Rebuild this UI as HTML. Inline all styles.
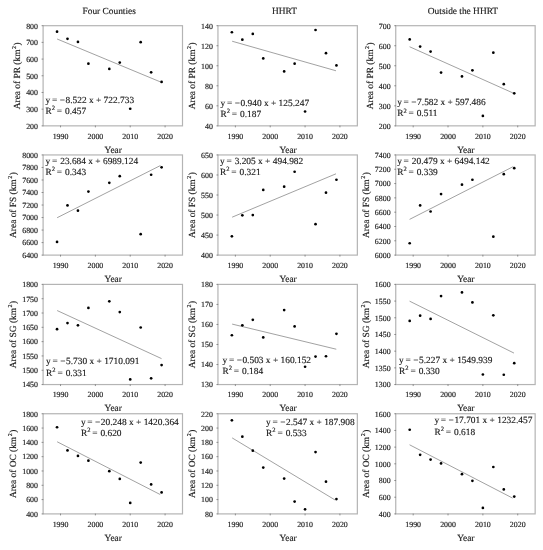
<!DOCTYPE html>
<html><head><meta charset="utf-8"><title>Figure</title>
<style>html,body{margin:0;padding:0;background:#fff}svg{display:block}text{stroke:#1a1a1a;stroke-width:.15px}.op{stroke-width:.05px}</style></head>
<body>
<svg width="543" height="550" viewBox="0 0 543 550" font-family="Liberation Serif, Times New Roman, serif" text-rendering="geometricPrecision" fill="#1a1a1a">
<rect width="543" height="550" fill="#fff"/>
<text x="109.20" y="14.3" font-size="9.40" text-anchor="middle">Four Counties</text>
<text x="284.55" y="14.3" font-size="9.40" text-anchor="middle">HHRT</text>
<text x="462.95" y="14.3" font-size="9.40" text-anchor="middle">Outside the HHRT</text>
<g>
<rect x="43.10" y="25.70" width="139.40" height="100.15" fill="none" stroke="#b4b4b4" stroke-width="1.2"/>
<line x1="60.53" y1="125.55" x2="60.53" y2="127.35" stroke="#777" stroke-width="0.8"/>
<text x="60.53" y="138.65" font-size="7.90" text-anchor="middle">1990</text>
<line x1="95.38" y1="125.55" x2="95.38" y2="127.35" stroke="#777" stroke-width="0.8"/>
<text x="95.38" y="138.65" font-size="7.90" text-anchor="middle">2000</text>
<line x1="130.22" y1="125.55" x2="130.22" y2="127.35" stroke="#777" stroke-width="0.8"/>
<text x="130.22" y="138.65" font-size="7.90" text-anchor="middle">2010</text>
<line x1="165.08" y1="125.55" x2="165.08" y2="127.35" stroke="#777" stroke-width="0.8"/>
<text x="165.08" y="138.65" font-size="7.90" text-anchor="middle">2020</text>
<line x1="41.60" y1="125.85" x2="43.40" y2="125.85" stroke="#777" stroke-width="0.8"/>
<text x="38.00" y="128.65" font-size="7.90" text-anchor="end">200</text>
<line x1="41.60" y1="109.16" x2="43.40" y2="109.16" stroke="#777" stroke-width="0.8"/>
<text x="38.00" y="111.96" font-size="7.90" text-anchor="end">300</text>
<line x1="41.60" y1="92.47" x2="43.40" y2="92.47" stroke="#777" stroke-width="0.8"/>
<text x="38.00" y="95.27" font-size="7.90" text-anchor="end">400</text>
<line x1="41.60" y1="75.78" x2="43.40" y2="75.78" stroke="#777" stroke-width="0.8"/>
<text x="38.00" y="78.58" font-size="7.90" text-anchor="end">500</text>
<line x1="41.60" y1="59.08" x2="43.40" y2="59.08" stroke="#777" stroke-width="0.8"/>
<text x="38.00" y="61.88" font-size="7.90" text-anchor="end">600</text>
<line x1="41.60" y1="42.39" x2="43.40" y2="42.39" stroke="#777" stroke-width="0.8"/>
<text x="38.00" y="45.19" font-size="7.90" text-anchor="end">700</text>
<line x1="41.60" y1="25.70" x2="43.40" y2="25.70" stroke="#777" stroke-width="0.8"/>
<text x="38.00" y="28.50" font-size="7.90" text-anchor="end">800</text>
<text transform="translate(20.35,75.78) rotate(-90)" font-size="9.40" text-anchor="middle">Area of PR (km<tspan font-size="6.02" dy="-4.2" dx="0.5">2</tspan><tspan dy="4.2" dx="0.6">)</tspan></text>
<text x="113.20" y="152.65" font-size="9.40" text-anchor="middle">Year</text>
<line x1="57.13" y1="39.01" x2="161.55" y2="82.38" stroke="#8a8a8a" stroke-width="0.8"/>
<circle cx="57.04" cy="31.68" r="1.35" fill="#000"/>
<circle cx="67.50" cy="38.86" r="1.35" fill="#000"/>
<circle cx="77.95" cy="41.90" r="1.35" fill="#000"/>
<circle cx="88.41" cy="63.72" r="1.35" fill="#000"/>
<circle cx="109.31" cy="68.97" r="1.35" fill="#000"/>
<circle cx="119.77" cy="62.62" r="1.35" fill="#000"/>
<circle cx="130.22" cy="108.75" r="1.35" fill="#000"/>
<circle cx="140.68" cy="42.17" r="1.35" fill="#000"/>
<circle cx="151.14" cy="72.28" r="1.35" fill="#000"/>
<circle cx="161.59" cy="81.95" r="1.35" fill="#000"/>
<text x="45.52" y="103.17" font-size="9.40">y <tspan class="op" dx="-0.6">=</tspan><tspan dx="0.6"> </tspan><tspan class="op" dx="-0.5">−</tspan><tspan dx="0.5">8</tspan>.522 x <tspan class="op">+</tspan> 722.733</text>
<text x="45.52" y="114.27" font-size="9.40">R<tspan font-size="6.58" dy="-3.9">2</tspan><tspan dy="3.9"> </tspan><tspan class="op" dx="-0.6">=</tspan><tspan dx="0.6"> 0.457</tspan></text>
</g>
<g>
<rect x="217.95" y="25.70" width="139.40" height="100.15" fill="none" stroke="#b4b4b4" stroke-width="1.2"/>
<line x1="235.38" y1="125.55" x2="235.38" y2="127.35" stroke="#777" stroke-width="0.8"/>
<text x="235.38" y="138.65" font-size="7.90" text-anchor="middle">1990</text>
<line x1="270.23" y1="125.55" x2="270.23" y2="127.35" stroke="#777" stroke-width="0.8"/>
<text x="270.23" y="138.65" font-size="7.90" text-anchor="middle">2000</text>
<line x1="305.07" y1="125.55" x2="305.07" y2="127.35" stroke="#777" stroke-width="0.8"/>
<text x="305.07" y="138.65" font-size="7.90" text-anchor="middle">2010</text>
<line x1="339.93" y1="125.55" x2="339.93" y2="127.35" stroke="#777" stroke-width="0.8"/>
<text x="339.93" y="138.65" font-size="7.90" text-anchor="middle">2020</text>
<line x1="216.45" y1="125.85" x2="218.25" y2="125.85" stroke="#777" stroke-width="0.8"/>
<text x="212.85" y="128.65" font-size="7.90" text-anchor="end">40</text>
<line x1="216.45" y1="105.82" x2="218.25" y2="105.82" stroke="#777" stroke-width="0.8"/>
<text x="212.85" y="108.62" font-size="7.90" text-anchor="end">60</text>
<line x1="216.45" y1="85.79" x2="218.25" y2="85.79" stroke="#777" stroke-width="0.8"/>
<text x="212.85" y="88.59" font-size="7.90" text-anchor="end">80</text>
<line x1="216.45" y1="65.76" x2="218.25" y2="65.76" stroke="#777" stroke-width="0.8"/>
<text x="212.85" y="68.56" font-size="7.90" text-anchor="end">100</text>
<line x1="216.45" y1="45.73" x2="218.25" y2="45.73" stroke="#777" stroke-width="0.8"/>
<text x="212.85" y="48.53" font-size="7.90" text-anchor="end">120</text>
<line x1="216.45" y1="25.70" x2="218.25" y2="25.70" stroke="#777" stroke-width="0.8"/>
<text x="212.85" y="28.50" font-size="7.90" text-anchor="end">140</text>
<text transform="translate(195.20,75.78) rotate(-90)" font-size="9.40" text-anchor="middle">Area of PR (km<tspan font-size="6.02" dy="-4.2" dx="0.5">2</tspan><tspan dy="4.2" dx="0.6">)</tspan></text>
<text x="288.05" y="152.65" font-size="9.40" text-anchor="middle">Year</text>
<line x1="232.13" y1="41.22" x2="335.99" y2="70.78" stroke="#8a8a8a" stroke-width="0.8"/>
<circle cx="231.89" cy="32.23" r="1.35" fill="#000"/>
<circle cx="242.34" cy="39.69" r="1.35" fill="#000"/>
<circle cx="252.80" cy="33.89" r="1.35" fill="#000"/>
<circle cx="263.25" cy="58.47" r="1.35" fill="#000"/>
<circle cx="284.16" cy="71.45" r="1.35" fill="#000"/>
<circle cx="294.62" cy="63.72" r="1.35" fill="#000"/>
<circle cx="305.07" cy="111.51" r="1.35" fill="#000"/>
<circle cx="315.53" cy="30.02" r="1.35" fill="#000"/>
<circle cx="325.99" cy="53.22" r="1.35" fill="#000"/>
<circle cx="336.44" cy="65.38" r="1.35" fill="#000"/>
<text x="220.52" y="105.93" font-size="9.40">y <tspan class="op" dx="-0.6">=</tspan><tspan dx="0.6"> </tspan><tspan class="op" dx="-0.5">−</tspan><tspan dx="0.5">0</tspan>.940 x <tspan class="op">+</tspan> 125.247</text>
<text x="220.52" y="117.03" font-size="9.40">R<tspan font-size="6.58" dy="-3.9">2</tspan><tspan dy="3.9"> </tspan><tspan class="op" dx="-0.6">=</tspan><tspan dx="0.6"> 0.187</tspan></text>
</g>
<g>
<rect x="395.75" y="25.70" width="139.40" height="100.15" fill="none" stroke="#b4b4b4" stroke-width="1.2"/>
<line x1="413.18" y1="125.55" x2="413.18" y2="127.35" stroke="#777" stroke-width="0.8"/>
<text x="413.18" y="138.65" font-size="7.90" text-anchor="middle">1990</text>
<line x1="448.02" y1="125.55" x2="448.02" y2="127.35" stroke="#777" stroke-width="0.8"/>
<text x="448.02" y="138.65" font-size="7.90" text-anchor="middle">2000</text>
<line x1="482.88" y1="125.55" x2="482.88" y2="127.35" stroke="#777" stroke-width="0.8"/>
<text x="482.88" y="138.65" font-size="7.90" text-anchor="middle">2010</text>
<line x1="517.73" y1="125.55" x2="517.73" y2="127.35" stroke="#777" stroke-width="0.8"/>
<text x="517.73" y="138.65" font-size="7.90" text-anchor="middle">2020</text>
<line x1="394.25" y1="125.85" x2="396.05" y2="125.85" stroke="#777" stroke-width="0.8"/>
<text x="390.65" y="128.65" font-size="7.90" text-anchor="end">200</text>
<line x1="394.25" y1="105.82" x2="396.05" y2="105.82" stroke="#777" stroke-width="0.8"/>
<text x="390.65" y="108.62" font-size="7.90" text-anchor="end">300</text>
<line x1="394.25" y1="85.79" x2="396.05" y2="85.79" stroke="#777" stroke-width="0.8"/>
<text x="390.65" y="88.59" font-size="7.90" text-anchor="end">400</text>
<line x1="394.25" y1="65.76" x2="396.05" y2="65.76" stroke="#777" stroke-width="0.8"/>
<text x="390.65" y="68.56" font-size="7.90" text-anchor="end">500</text>
<line x1="394.25" y1="45.73" x2="396.05" y2="45.73" stroke="#777" stroke-width="0.8"/>
<text x="390.65" y="48.53" font-size="7.90" text-anchor="end">600</text>
<line x1="394.25" y1="25.70" x2="396.05" y2="25.70" stroke="#777" stroke-width="0.8"/>
<text x="390.65" y="28.50" font-size="7.90" text-anchor="end">700</text>
<text transform="translate(373.00,75.78) rotate(-90)" font-size="9.40" text-anchor="middle">Area of PR (km<tspan font-size="6.02" dy="-4.2" dx="0.5">2</tspan><tspan dy="4.2" dx="0.6">)</tspan></text>
<text x="465.85" y="152.65" font-size="9.40" text-anchor="middle">Year</text>
<line x1="409.57" y1="46.74" x2="513.99" y2="93.43" stroke="#8a8a8a" stroke-width="0.8"/>
<circle cx="409.69" cy="39.41" r="1.35" fill="#000"/>
<circle cx="420.14" cy="46.59" r="1.35" fill="#000"/>
<circle cx="430.60" cy="51.57" r="1.35" fill="#000"/>
<circle cx="441.06" cy="72.56" r="1.35" fill="#000"/>
<circle cx="461.97" cy="76.43" r="1.35" fill="#000"/>
<circle cx="472.42" cy="70.35" r="1.35" fill="#000"/>
<circle cx="482.88" cy="115.93" r="1.35" fill="#000"/>
<circle cx="493.33" cy="52.67" r="1.35" fill="#000"/>
<circle cx="503.79" cy="84.16" r="1.35" fill="#000"/>
<circle cx="514.24" cy="93.28" r="1.35" fill="#000"/>
<text x="397.14" y="105.38" font-size="9.40">y <tspan class="op" dx="-0.6">=</tspan><tspan dx="0.6"> </tspan><tspan class="op" dx="-0.5">−</tspan><tspan dx="0.5">7</tspan>.582 x <tspan class="op">+</tspan> 597.486</text>
<text x="397.14" y="116.48" font-size="9.40">R<tspan font-size="6.58" dy="-3.9">2</tspan><tspan dy="3.9"> </tspan><tspan class="op" dx="-0.6">=</tspan><tspan dx="0.6"> 0.511</tspan></text>
</g>
<g>
<rect x="43.10" y="154.95" width="139.40" height="100.15" fill="none" stroke="#b4b4b4" stroke-width="1.2"/>
<line x1="60.53" y1="254.80" x2="60.53" y2="256.60" stroke="#777" stroke-width="0.8"/>
<text x="60.53" y="267.90" font-size="7.90" text-anchor="middle">1990</text>
<line x1="95.38" y1="254.80" x2="95.38" y2="256.60" stroke="#777" stroke-width="0.8"/>
<text x="95.38" y="267.90" font-size="7.90" text-anchor="middle">2000</text>
<line x1="130.22" y1="254.80" x2="130.22" y2="256.60" stroke="#777" stroke-width="0.8"/>
<text x="130.22" y="267.90" font-size="7.90" text-anchor="middle">2010</text>
<line x1="165.08" y1="254.80" x2="165.08" y2="256.60" stroke="#777" stroke-width="0.8"/>
<text x="165.08" y="267.90" font-size="7.90" text-anchor="middle">2020</text>
<line x1="41.60" y1="255.10" x2="43.40" y2="255.10" stroke="#777" stroke-width="0.8"/>
<text x="38.00" y="257.90" font-size="7.90" text-anchor="end">6400</text>
<line x1="41.60" y1="242.58" x2="43.40" y2="242.58" stroke="#777" stroke-width="0.8"/>
<text x="38.00" y="245.38" font-size="7.90" text-anchor="end">6600</text>
<line x1="41.60" y1="230.06" x2="43.40" y2="230.06" stroke="#777" stroke-width="0.8"/>
<text x="38.00" y="232.86" font-size="7.90" text-anchor="end">6800</text>
<line x1="41.60" y1="217.54" x2="43.40" y2="217.54" stroke="#777" stroke-width="0.8"/>
<text x="38.00" y="220.34" font-size="7.90" text-anchor="end">7000</text>
<line x1="41.60" y1="205.02" x2="43.40" y2="205.02" stroke="#777" stroke-width="0.8"/>
<text x="38.00" y="207.82" font-size="7.90" text-anchor="end">7200</text>
<line x1="41.60" y1="192.51" x2="43.40" y2="192.51" stroke="#777" stroke-width="0.8"/>
<text x="38.00" y="195.31" font-size="7.90" text-anchor="end">7400</text>
<line x1="41.60" y1="179.99" x2="43.40" y2="179.99" stroke="#777" stroke-width="0.8"/>
<text x="38.00" y="182.79" font-size="7.90" text-anchor="end">7600</text>
<line x1="41.60" y1="167.47" x2="43.40" y2="167.47" stroke="#777" stroke-width="0.8"/>
<text x="38.00" y="170.27" font-size="7.90" text-anchor="end">7800</text>
<line x1="41.60" y1="154.95" x2="43.40" y2="154.95" stroke="#777" stroke-width="0.8"/>
<text x="38.00" y="157.75" font-size="7.90" text-anchor="end">8000</text>
<text transform="translate(16.40,205.02) rotate(-90)" font-size="9.40" text-anchor="middle">Area of FS (km<tspan font-size="6.02" dy="-4.2" dx="0.5">2</tspan><tspan dy="4.2" dx="0.6">)</tspan></text>
<text x="113.20" y="281.90" font-size="9.40" text-anchor="middle">Year</text>
<line x1="57.13" y1="217.73" x2="160.44" y2="165.52" stroke="#8a8a8a" stroke-width="0.8"/>
<circle cx="57.04" cy="241.89" r="1.35" fill="#000"/>
<circle cx="67.50" cy="205.43" r="1.35" fill="#000"/>
<circle cx="77.95" cy="210.68" r="1.35" fill="#000"/>
<circle cx="88.41" cy="191.62" r="1.35" fill="#000"/>
<circle cx="109.31" cy="182.78" r="1.35" fill="#000"/>
<circle cx="119.77" cy="176.15" r="1.35" fill="#000"/>
<circle cx="140.68" cy="234.16" r="1.35" fill="#000"/>
<circle cx="151.14" cy="174.76" r="1.35" fill="#000"/>
<circle cx="161.59" cy="167.31" r="1.35" fill="#000"/>
<text x="45.52" y="164.21" font-size="9.40">y <tspan class="op" dx="-0.6">=</tspan><tspan dx="0.6"> </tspan>23.684 x <tspan class="op">+</tspan> 6989.124</text>
<text x="45.52" y="175.31" font-size="9.40">R<tspan font-size="6.58" dy="-3.9">2</tspan><tspan dy="3.9"> </tspan><tspan class="op" dx="-0.6">=</tspan><tspan dx="0.6"> 0.343</tspan></text>
</g>
<g>
<rect x="217.95" y="154.95" width="139.40" height="100.15" fill="none" stroke="#b4b4b4" stroke-width="1.2"/>
<line x1="235.38" y1="254.80" x2="235.38" y2="256.60" stroke="#777" stroke-width="0.8"/>
<text x="235.38" y="267.90" font-size="7.90" text-anchor="middle">1990</text>
<line x1="270.23" y1="254.80" x2="270.23" y2="256.60" stroke="#777" stroke-width="0.8"/>
<text x="270.23" y="267.90" font-size="7.90" text-anchor="middle">2000</text>
<line x1="305.07" y1="254.80" x2="305.07" y2="256.60" stroke="#777" stroke-width="0.8"/>
<text x="305.07" y="267.90" font-size="7.90" text-anchor="middle">2010</text>
<line x1="339.93" y1="254.80" x2="339.93" y2="256.60" stroke="#777" stroke-width="0.8"/>
<text x="339.93" y="267.90" font-size="7.90" text-anchor="middle">2020</text>
<line x1="216.45" y1="255.10" x2="218.25" y2="255.10" stroke="#777" stroke-width="0.8"/>
<text x="212.85" y="257.90" font-size="7.90" text-anchor="end">400</text>
<line x1="216.45" y1="235.07" x2="218.25" y2="235.07" stroke="#777" stroke-width="0.8"/>
<text x="212.85" y="237.87" font-size="7.90" text-anchor="end">450</text>
<line x1="216.45" y1="215.04" x2="218.25" y2="215.04" stroke="#777" stroke-width="0.8"/>
<text x="212.85" y="217.84" font-size="7.90" text-anchor="end">500</text>
<line x1="216.45" y1="195.01" x2="218.25" y2="195.01" stroke="#777" stroke-width="0.8"/>
<text x="212.85" y="197.81" font-size="7.90" text-anchor="end">550</text>
<line x1="216.45" y1="174.98" x2="218.25" y2="174.98" stroke="#777" stroke-width="0.8"/>
<text x="212.85" y="177.78" font-size="7.90" text-anchor="end">600</text>
<line x1="216.45" y1="154.95" x2="218.25" y2="154.95" stroke="#777" stroke-width="0.8"/>
<text x="212.85" y="157.75" font-size="7.90" text-anchor="end">650</text>
<text transform="translate(195.20,205.02) rotate(-90)" font-size="9.40" text-anchor="middle">Area of FS (km<tspan font-size="6.02" dy="-4.2" dx="0.5">2</tspan><tspan dy="4.2" dx="0.6">)</tspan></text>
<text x="288.05" y="281.90" font-size="9.40" text-anchor="middle">Year</text>
<line x1="232.13" y1="217.18" x2="335.99" y2="173.81" stroke="#8a8a8a" stroke-width="0.8"/>
<circle cx="231.89" cy="236.37" r="1.35" fill="#000"/>
<circle cx="242.34" cy="215.37" r="1.35" fill="#000"/>
<circle cx="252.80" cy="215.10" r="1.35" fill="#000"/>
<circle cx="263.25" cy="189.96" r="1.35" fill="#000"/>
<circle cx="284.16" cy="186.64" r="1.35" fill="#000"/>
<circle cx="294.62" cy="171.73" r="1.35" fill="#000"/>
<circle cx="315.53" cy="224.21" r="1.35" fill="#000"/>
<circle cx="325.99" cy="192.72" r="1.35" fill="#000"/>
<circle cx="336.44" cy="179.74" r="1.35" fill="#000"/>
<text x="219.97" y="164.21" font-size="9.40">y <tspan class="op" dx="-0.6">=</tspan><tspan dx="0.6"> </tspan>3.205 x <tspan class="op">+</tspan> 494.982</text>
<text x="219.97" y="175.31" font-size="9.40">R<tspan font-size="6.58" dy="-3.9">2</tspan><tspan dy="3.9"> </tspan><tspan class="op" dx="-0.6">=</tspan><tspan dx="0.6"> 0.321</tspan></text>
</g>
<g>
<rect x="395.75" y="154.95" width="139.40" height="100.15" fill="none" stroke="#b4b4b4" stroke-width="1.2"/>
<line x1="413.18" y1="254.80" x2="413.18" y2="256.60" stroke="#777" stroke-width="0.8"/>
<text x="413.18" y="267.90" font-size="7.90" text-anchor="middle">1990</text>
<line x1="448.02" y1="254.80" x2="448.02" y2="256.60" stroke="#777" stroke-width="0.8"/>
<text x="448.02" y="267.90" font-size="7.90" text-anchor="middle">2000</text>
<line x1="482.88" y1="254.80" x2="482.88" y2="256.60" stroke="#777" stroke-width="0.8"/>
<text x="482.88" y="267.90" font-size="7.90" text-anchor="middle">2010</text>
<line x1="517.73" y1="254.80" x2="517.73" y2="256.60" stroke="#777" stroke-width="0.8"/>
<text x="517.73" y="267.90" font-size="7.90" text-anchor="middle">2020</text>
<line x1="394.25" y1="255.10" x2="396.05" y2="255.10" stroke="#777" stroke-width="0.8"/>
<text x="390.65" y="257.90" font-size="7.90" text-anchor="end">6000</text>
<line x1="394.25" y1="240.79" x2="396.05" y2="240.79" stroke="#777" stroke-width="0.8"/>
<text x="390.65" y="243.59" font-size="7.90" text-anchor="end">6200</text>
<line x1="394.25" y1="226.49" x2="396.05" y2="226.49" stroke="#777" stroke-width="0.8"/>
<text x="390.65" y="229.29" font-size="7.90" text-anchor="end">6400</text>
<line x1="394.25" y1="212.18" x2="396.05" y2="212.18" stroke="#777" stroke-width="0.8"/>
<text x="390.65" y="214.98" font-size="7.90" text-anchor="end">6600</text>
<line x1="394.25" y1="197.87" x2="396.05" y2="197.87" stroke="#777" stroke-width="0.8"/>
<text x="390.65" y="200.67" font-size="7.90" text-anchor="end">6800</text>
<line x1="394.25" y1="183.56" x2="396.05" y2="183.56" stroke="#777" stroke-width="0.8"/>
<text x="390.65" y="186.36" font-size="7.90" text-anchor="end">7000</text>
<line x1="394.25" y1="169.26" x2="396.05" y2="169.26" stroke="#777" stroke-width="0.8"/>
<text x="390.65" y="172.06" font-size="7.90" text-anchor="end">7200</text>
<line x1="394.25" y1="154.95" x2="396.05" y2="154.95" stroke="#777" stroke-width="0.8"/>
<text x="390.65" y="157.75" font-size="7.90" text-anchor="end">7400</text>
<text transform="translate(369.05,205.02) rotate(-90)" font-size="9.40" text-anchor="middle">Area of FS (km<tspan font-size="6.02" dy="-4.2" dx="0.5">2</tspan><tspan dy="4.2" dx="0.6">)</tspan></text>
<text x="465.85" y="281.90" font-size="9.40" text-anchor="middle">Year</text>
<line x1="409.57" y1="219.39" x2="513.17" y2="166.63" stroke="#8a8a8a" stroke-width="0.8"/>
<circle cx="409.69" cy="243.27" r="1.35" fill="#000"/>
<circle cx="420.14" cy="205.43" r="1.35" fill="#000"/>
<circle cx="430.60" cy="211.50" r="1.35" fill="#000"/>
<circle cx="441.06" cy="194.10" r="1.35" fill="#000"/>
<circle cx="461.97" cy="184.71" r="1.35" fill="#000"/>
<circle cx="472.42" cy="179.74" r="1.35" fill="#000"/>
<circle cx="493.33" cy="236.64" r="1.35" fill="#000"/>
<circle cx="503.79" cy="174.21" r="1.35" fill="#000"/>
<circle cx="514.24" cy="168.13" r="1.35" fill="#000"/>
<text x="397.14" y="164.21" font-size="9.40">y <tspan class="op" dx="-0.6">=</tspan><tspan dx="0.6"> </tspan>20.479 x <tspan class="op">+</tspan> 6494.142</text>
<text x="397.14" y="175.31" font-size="9.40">R<tspan font-size="6.58" dy="-3.9">2</tspan><tspan dy="3.9"> </tspan><tspan class="op" dx="-0.6">=</tspan><tspan dx="0.6"> 0.339</tspan></text>
</g>
<g>
<rect x="43.10" y="284.40" width="139.40" height="100.15" fill="none" stroke="#b4b4b4" stroke-width="1.2"/>
<line x1="60.53" y1="384.25" x2="60.53" y2="386.05" stroke="#777" stroke-width="0.8"/>
<text x="60.53" y="397.35" font-size="7.90" text-anchor="middle">1990</text>
<line x1="95.38" y1="384.25" x2="95.38" y2="386.05" stroke="#777" stroke-width="0.8"/>
<text x="95.38" y="397.35" font-size="7.90" text-anchor="middle">2000</text>
<line x1="130.22" y1="384.25" x2="130.22" y2="386.05" stroke="#777" stroke-width="0.8"/>
<text x="130.22" y="397.35" font-size="7.90" text-anchor="middle">2010</text>
<line x1="165.08" y1="384.25" x2="165.08" y2="386.05" stroke="#777" stroke-width="0.8"/>
<text x="165.08" y="397.35" font-size="7.90" text-anchor="middle">2020</text>
<line x1="41.60" y1="384.55" x2="43.40" y2="384.55" stroke="#777" stroke-width="0.8"/>
<text x="38.00" y="387.35" font-size="7.90" text-anchor="end">1450</text>
<line x1="41.60" y1="370.24" x2="43.40" y2="370.24" stroke="#777" stroke-width="0.8"/>
<text x="38.00" y="373.04" font-size="7.90" text-anchor="end">1500</text>
<line x1="41.60" y1="355.94" x2="43.40" y2="355.94" stroke="#777" stroke-width="0.8"/>
<text x="38.00" y="358.74" font-size="7.90" text-anchor="end">1550</text>
<line x1="41.60" y1="341.63" x2="43.40" y2="341.63" stroke="#777" stroke-width="0.8"/>
<text x="38.00" y="344.43" font-size="7.90" text-anchor="end">1600</text>
<line x1="41.60" y1="327.32" x2="43.40" y2="327.32" stroke="#777" stroke-width="0.8"/>
<text x="38.00" y="330.12" font-size="7.90" text-anchor="end">1650</text>
<line x1="41.60" y1="313.01" x2="43.40" y2="313.01" stroke="#777" stroke-width="0.8"/>
<text x="38.00" y="315.81" font-size="7.90" text-anchor="end">1700</text>
<line x1="41.60" y1="298.71" x2="43.40" y2="298.71" stroke="#777" stroke-width="0.8"/>
<text x="38.00" y="301.51" font-size="7.90" text-anchor="end">1750</text>
<line x1="41.60" y1="284.40" x2="43.40" y2="284.40" stroke="#777" stroke-width="0.8"/>
<text x="38.00" y="287.20" font-size="7.90" text-anchor="end">1800</text>
<text transform="translate(16.40,334.47) rotate(-90)" font-size="9.40" text-anchor="middle">Area of SG (km<tspan font-size="6.02" dy="-4.2" dx="0.5">2</tspan><tspan dy="4.2" dx="0.6">)</tspan></text>
<text x="113.20" y="411.35" font-size="9.40" text-anchor="middle">Year</text>
<line x1="57.13" y1="310.54" x2="161.55" y2="358.61" stroke="#8a8a8a" stroke-width="0.8"/>
<circle cx="57.04" cy="329.18" r="1.35" fill="#000"/>
<circle cx="67.50" cy="323.10" r="1.35" fill="#000"/>
<circle cx="77.95" cy="325.31" r="1.35" fill="#000"/>
<circle cx="88.41" cy="307.91" r="1.35" fill="#000"/>
<circle cx="109.31" cy="301.28" r="1.35" fill="#000"/>
<circle cx="119.77" cy="312.05" r="1.35" fill="#000"/>
<circle cx="130.22" cy="379.45" r="1.35" fill="#000"/>
<circle cx="140.68" cy="327.52" r="1.35" fill="#000"/>
<circle cx="151.14" cy="378.35" r="1.35" fill="#000"/>
<circle cx="161.59" cy="365.09" r="1.35" fill="#000"/>
<text x="46.08" y="364.49" font-size="9.40">y <tspan class="op" dx="-0.6">=</tspan><tspan dx="0.6"> </tspan><tspan class="op" dx="-0.5">−</tspan><tspan dx="0.5">5</tspan>.730 x <tspan class="op">+</tspan> 1710.091</text>
<text x="46.08" y="375.59" font-size="9.40">R<tspan font-size="6.58" dy="-3.9">2</tspan><tspan dy="3.9"> </tspan><tspan class="op" dx="-0.6">=</tspan><tspan dx="0.6"> 0.331</tspan></text>
</g>
<g>
<rect x="217.95" y="284.40" width="139.40" height="100.15" fill="none" stroke="#b4b4b4" stroke-width="1.2"/>
<line x1="235.38" y1="384.25" x2="235.38" y2="386.05" stroke="#777" stroke-width="0.8"/>
<text x="235.38" y="397.35" font-size="7.90" text-anchor="middle">1990</text>
<line x1="270.23" y1="384.25" x2="270.23" y2="386.05" stroke="#777" stroke-width="0.8"/>
<text x="270.23" y="397.35" font-size="7.90" text-anchor="middle">2000</text>
<line x1="305.07" y1="384.25" x2="305.07" y2="386.05" stroke="#777" stroke-width="0.8"/>
<text x="305.07" y="397.35" font-size="7.90" text-anchor="middle">2010</text>
<line x1="339.93" y1="384.25" x2="339.93" y2="386.05" stroke="#777" stroke-width="0.8"/>
<text x="339.93" y="397.35" font-size="7.90" text-anchor="middle">2020</text>
<line x1="216.45" y1="384.55" x2="218.25" y2="384.55" stroke="#777" stroke-width="0.8"/>
<text x="212.85" y="387.35" font-size="7.90" text-anchor="end">130</text>
<line x1="216.45" y1="364.52" x2="218.25" y2="364.52" stroke="#777" stroke-width="0.8"/>
<text x="212.85" y="367.32" font-size="7.90" text-anchor="end">140</text>
<line x1="216.45" y1="344.49" x2="218.25" y2="344.49" stroke="#777" stroke-width="0.8"/>
<text x="212.85" y="347.29" font-size="7.90" text-anchor="end">150</text>
<line x1="216.45" y1="324.46" x2="218.25" y2="324.46" stroke="#777" stroke-width="0.8"/>
<text x="212.85" y="327.26" font-size="7.90" text-anchor="end">160</text>
<line x1="216.45" y1="304.43" x2="218.25" y2="304.43" stroke="#777" stroke-width="0.8"/>
<text x="212.85" y="307.23" font-size="7.90" text-anchor="end">170</text>
<line x1="216.45" y1="284.40" x2="218.25" y2="284.40" stroke="#777" stroke-width="0.8"/>
<text x="212.85" y="287.20" font-size="7.90" text-anchor="end">180</text>
<text transform="translate(195.20,334.47) rotate(-90)" font-size="9.40" text-anchor="middle">Area of SG (km<tspan font-size="6.02" dy="-4.2" dx="0.5">2</tspan><tspan dy="4.2" dx="0.6">)</tspan></text>
<text x="288.05" y="411.35" font-size="9.40" text-anchor="middle">Year</text>
<line x1="232.13" y1="324.08" x2="336.27" y2="349.22" stroke="#8a8a8a" stroke-width="0.8"/>
<circle cx="231.89" cy="335.26" r="1.35" fill="#000"/>
<circle cx="242.34" cy="325.31" r="1.35" fill="#000"/>
<circle cx="252.80" cy="319.79" r="1.35" fill="#000"/>
<circle cx="263.25" cy="337.47" r="1.35" fill="#000"/>
<circle cx="284.16" cy="310.12" r="1.35" fill="#000"/>
<circle cx="294.62" cy="326.42" r="1.35" fill="#000"/>
<circle cx="305.07" cy="366.75" r="1.35" fill="#000"/>
<circle cx="315.53" cy="356.53" r="1.35" fill="#000"/>
<circle cx="325.99" cy="356.25" r="1.35" fill="#000"/>
<circle cx="336.44" cy="333.87" r="1.35" fill="#000"/>
<text x="222.46" y="363.10" font-size="9.40">y <tspan class="op" dx="-0.6">=</tspan><tspan dx="0.6"> </tspan><tspan class="op" dx="-0.5">−</tspan><tspan dx="0.5">0</tspan>.503 x <tspan class="op">+</tspan> 160.152</text>
<text x="222.46" y="374.20" font-size="9.40">R<tspan font-size="6.58" dy="-3.9">2</tspan><tspan dy="3.9"> </tspan><tspan class="op" dx="-0.6">=</tspan><tspan dx="0.6"> 0.184</tspan></text>
</g>
<g>
<rect x="395.75" y="284.40" width="139.40" height="100.15" fill="none" stroke="#b4b4b4" stroke-width="1.2"/>
<line x1="413.18" y1="384.25" x2="413.18" y2="386.05" stroke="#777" stroke-width="0.8"/>
<text x="413.18" y="397.35" font-size="7.90" text-anchor="middle">1990</text>
<line x1="448.02" y1="384.25" x2="448.02" y2="386.05" stroke="#777" stroke-width="0.8"/>
<text x="448.02" y="397.35" font-size="7.90" text-anchor="middle">2000</text>
<line x1="482.88" y1="384.25" x2="482.88" y2="386.05" stroke="#777" stroke-width="0.8"/>
<text x="482.88" y="397.35" font-size="7.90" text-anchor="middle">2010</text>
<line x1="517.73" y1="384.25" x2="517.73" y2="386.05" stroke="#777" stroke-width="0.8"/>
<text x="517.73" y="397.35" font-size="7.90" text-anchor="middle">2020</text>
<line x1="394.25" y1="384.55" x2="396.05" y2="384.55" stroke="#777" stroke-width="0.8"/>
<text x="390.65" y="387.35" font-size="7.90" text-anchor="end">1300</text>
<line x1="394.25" y1="367.86" x2="396.05" y2="367.86" stroke="#777" stroke-width="0.8"/>
<text x="390.65" y="370.66" font-size="7.90" text-anchor="end">1350</text>
<line x1="394.25" y1="351.17" x2="396.05" y2="351.17" stroke="#777" stroke-width="0.8"/>
<text x="390.65" y="353.97" font-size="7.90" text-anchor="end">1400</text>
<line x1="394.25" y1="334.47" x2="396.05" y2="334.47" stroke="#777" stroke-width="0.8"/>
<text x="390.65" y="337.27" font-size="7.90" text-anchor="end">1450</text>
<line x1="394.25" y1="317.78" x2="396.05" y2="317.78" stroke="#777" stroke-width="0.8"/>
<text x="390.65" y="320.58" font-size="7.90" text-anchor="end">1500</text>
<line x1="394.25" y1="301.09" x2="396.05" y2="301.09" stroke="#777" stroke-width="0.8"/>
<text x="390.65" y="303.89" font-size="7.90" text-anchor="end">1550</text>
<line x1="394.25" y1="284.40" x2="396.05" y2="284.40" stroke="#777" stroke-width="0.8"/>
<text x="390.65" y="287.20" font-size="7.90" text-anchor="end">1600</text>
<text transform="translate(369.05,334.47) rotate(-90)" font-size="9.40" text-anchor="middle">Area of SG (km<tspan font-size="6.02" dy="-4.2" dx="0.5">2</tspan><tspan dy="4.2" dx="0.6">)</tspan></text>
<text x="465.85" y="411.35" font-size="9.40" text-anchor="middle">Year</text>
<line x1="409.57" y1="301.15" x2="513.99" y2="353.09" stroke="#8a8a8a" stroke-width="0.8"/>
<circle cx="409.69" cy="320.89" r="1.35" fill="#000"/>
<circle cx="420.14" cy="315.64" r="1.35" fill="#000"/>
<circle cx="430.60" cy="318.96" r="1.35" fill="#000"/>
<circle cx="441.06" cy="296.03" r="1.35" fill="#000"/>
<circle cx="461.97" cy="292.44" r="1.35" fill="#000"/>
<circle cx="472.42" cy="302.38" r="1.35" fill="#000"/>
<circle cx="482.88" cy="374.48" r="1.35" fill="#000"/>
<circle cx="493.33" cy="315.37" r="1.35" fill="#000"/>
<circle cx="503.79" cy="374.76" r="1.35" fill="#000"/>
<circle cx="514.24" cy="363.16" r="1.35" fill="#000"/>
<text x="399.08" y="363.10" font-size="9.40">y <tspan class="op" dx="-0.6">=</tspan><tspan dx="0.6"> </tspan><tspan class="op" dx="-0.5">−</tspan><tspan dx="0.5">5</tspan>.227 x <tspan class="op">+</tspan> 1549.939</text>
<text x="399.08" y="374.20" font-size="9.40">R<tspan font-size="6.58" dy="-3.9">2</tspan><tspan dy="3.9"> </tspan><tspan class="op" dx="-0.6">=</tspan><tspan dx="0.6"> 0.330</tspan></text>
</g>
<g>
<rect x="43.10" y="413.75" width="139.40" height="100.15" fill="none" stroke="#b4b4b4" stroke-width="1.2"/>
<line x1="60.53" y1="513.60" x2="60.53" y2="515.40" stroke="#777" stroke-width="0.8"/>
<text x="60.53" y="526.70" font-size="7.90" text-anchor="middle">1990</text>
<line x1="95.38" y1="513.60" x2="95.38" y2="515.40" stroke="#777" stroke-width="0.8"/>
<text x="95.38" y="526.70" font-size="7.90" text-anchor="middle">2000</text>
<line x1="130.22" y1="513.60" x2="130.22" y2="515.40" stroke="#777" stroke-width="0.8"/>
<text x="130.22" y="526.70" font-size="7.90" text-anchor="middle">2010</text>
<line x1="165.08" y1="513.60" x2="165.08" y2="515.40" stroke="#777" stroke-width="0.8"/>
<text x="165.08" y="526.70" font-size="7.90" text-anchor="middle">2020</text>
<line x1="41.60" y1="513.90" x2="43.40" y2="513.90" stroke="#777" stroke-width="0.8"/>
<text x="38.00" y="516.70" font-size="7.90" text-anchor="end">400</text>
<line x1="41.60" y1="499.59" x2="43.40" y2="499.59" stroke="#777" stroke-width="0.8"/>
<text x="38.00" y="502.39" font-size="7.90" text-anchor="end">600</text>
<line x1="41.60" y1="485.29" x2="43.40" y2="485.29" stroke="#777" stroke-width="0.8"/>
<text x="38.00" y="488.09" font-size="7.90" text-anchor="end">800</text>
<line x1="41.60" y1="470.98" x2="43.40" y2="470.98" stroke="#777" stroke-width="0.8"/>
<text x="38.00" y="473.78" font-size="7.90" text-anchor="end">1000</text>
<line x1="41.60" y1="456.67" x2="43.40" y2="456.67" stroke="#777" stroke-width="0.8"/>
<text x="38.00" y="459.47" font-size="7.90" text-anchor="end">1200</text>
<line x1="41.60" y1="442.36" x2="43.40" y2="442.36" stroke="#777" stroke-width="0.8"/>
<text x="38.00" y="445.16" font-size="7.90" text-anchor="end">1400</text>
<line x1="41.60" y1="428.06" x2="43.40" y2="428.06" stroke="#777" stroke-width="0.8"/>
<text x="38.00" y="430.86" font-size="7.90" text-anchor="end">1600</text>
<line x1="41.60" y1="413.75" x2="43.40" y2="413.75" stroke="#777" stroke-width="0.8"/>
<text x="38.00" y="416.55" font-size="7.90" text-anchor="end">1800</text>
<text transform="translate(16.40,463.82) rotate(-90)" font-size="9.40" text-anchor="middle">Area of OC (km<tspan font-size="6.02" dy="-4.2" dx="0.5">2</tspan><tspan dy="4.2" dx="0.6">)</tspan></text>
<text x="113.20" y="540.70" font-size="9.40" text-anchor="middle">Year</text>
<line x1="57.13" y1="441.75" x2="160.17" y2="494.52" stroke="#8a8a8a" stroke-width="0.8"/>
<circle cx="57.04" cy="427.24" r="1.35" fill="#000"/>
<circle cx="67.50" cy="450.44" r="1.35" fill="#000"/>
<circle cx="77.95" cy="455.97" r="1.35" fill="#000"/>
<circle cx="88.41" cy="460.66" r="1.35" fill="#000"/>
<circle cx="109.31" cy="471.16" r="1.35" fill="#000"/>
<circle cx="119.77" cy="478.90" r="1.35" fill="#000"/>
<circle cx="130.22" cy="502.93" r="1.35" fill="#000"/>
<circle cx="140.68" cy="462.60" r="1.35" fill="#000"/>
<circle cx="151.14" cy="484.42" r="1.35" fill="#000"/>
<circle cx="161.59" cy="492.43" r="1.35" fill="#000"/>
<text x="80.88" y="424.57" font-size="9.40">y <tspan class="op" dx="-0.6">=</tspan><tspan dx="0.6"> </tspan><tspan class="op" dx="-0.5">−</tspan><tspan dx="0.5">2</tspan>0.248 x <tspan class="op">+</tspan> 1420.364</text>
<text x="80.88" y="435.67" font-size="9.40">R<tspan font-size="6.58" dy="-3.9">2</tspan><tspan dy="3.9"> </tspan><tspan class="op" dx="-0.6">=</tspan><tspan dx="0.6"> 0.620</tspan></text>
</g>
<g>
<rect x="217.95" y="413.75" width="139.40" height="100.15" fill="none" stroke="#b4b4b4" stroke-width="1.2"/>
<line x1="235.38" y1="513.60" x2="235.38" y2="515.40" stroke="#777" stroke-width="0.8"/>
<text x="235.38" y="526.70" font-size="7.90" text-anchor="middle">1990</text>
<line x1="270.23" y1="513.60" x2="270.23" y2="515.40" stroke="#777" stroke-width="0.8"/>
<text x="270.23" y="526.70" font-size="7.90" text-anchor="middle">2000</text>
<line x1="305.07" y1="513.60" x2="305.07" y2="515.40" stroke="#777" stroke-width="0.8"/>
<text x="305.07" y="526.70" font-size="7.90" text-anchor="middle">2010</text>
<line x1="339.93" y1="513.60" x2="339.93" y2="515.40" stroke="#777" stroke-width="0.8"/>
<text x="339.93" y="526.70" font-size="7.90" text-anchor="middle">2020</text>
<line x1="216.45" y1="513.90" x2="218.25" y2="513.90" stroke="#777" stroke-width="0.8"/>
<text x="212.85" y="516.70" font-size="7.90" text-anchor="end">80</text>
<line x1="216.45" y1="499.59" x2="218.25" y2="499.59" stroke="#777" stroke-width="0.8"/>
<text x="212.85" y="502.39" font-size="7.90" text-anchor="end">100</text>
<line x1="216.45" y1="485.29" x2="218.25" y2="485.29" stroke="#777" stroke-width="0.8"/>
<text x="212.85" y="488.09" font-size="7.90" text-anchor="end">120</text>
<line x1="216.45" y1="470.98" x2="218.25" y2="470.98" stroke="#777" stroke-width="0.8"/>
<text x="212.85" y="473.78" font-size="7.90" text-anchor="end">140</text>
<line x1="216.45" y1="456.67" x2="218.25" y2="456.67" stroke="#777" stroke-width="0.8"/>
<text x="212.85" y="459.47" font-size="7.90" text-anchor="end">160</text>
<line x1="216.45" y1="442.36" x2="218.25" y2="442.36" stroke="#777" stroke-width="0.8"/>
<text x="212.85" y="445.16" font-size="7.90" text-anchor="end">180</text>
<line x1="216.45" y1="428.06" x2="218.25" y2="428.06" stroke="#777" stroke-width="0.8"/>
<text x="212.85" y="430.86" font-size="7.90" text-anchor="end">200</text>
<line x1="216.45" y1="413.75" x2="218.25" y2="413.75" stroke="#777" stroke-width="0.8"/>
<text x="212.85" y="416.55" font-size="7.90" text-anchor="end">220</text>
<text transform="translate(195.20,463.82) rotate(-90)" font-size="9.40" text-anchor="middle">Area of OC (km<tspan font-size="6.02" dy="-4.2" dx="0.5">2</tspan><tspan dy="4.2" dx="0.6">)</tspan></text>
<text x="288.05" y="540.70" font-size="9.40" text-anchor="middle">Year</text>
<line x1="232.13" y1="437.89" x2="335.17" y2="500.04" stroke="#8a8a8a" stroke-width="0.8"/>
<circle cx="231.89" cy="420.33" r="1.35" fill="#000"/>
<circle cx="242.34" cy="436.63" r="1.35" fill="#000"/>
<circle cx="252.80" cy="450.72" r="1.35" fill="#000"/>
<circle cx="263.25" cy="467.57" r="1.35" fill="#000"/>
<circle cx="284.16" cy="478.62" r="1.35" fill="#000"/>
<circle cx="294.62" cy="501.55" r="1.35" fill="#000"/>
<circle cx="305.07" cy="509.28" r="1.35" fill="#000"/>
<circle cx="315.53" cy="452.10" r="1.35" fill="#000"/>
<circle cx="325.99" cy="481.66" r="1.35" fill="#000"/>
<circle cx="336.44" cy="499.06" r="1.35" fill="#000"/>
<text x="266.10" y="425.13" font-size="9.40">y <tspan class="op" dx="-0.6">=</tspan><tspan dx="0.6"> </tspan><tspan class="op" dx="-0.5">−</tspan><tspan dx="0.5">2</tspan>.547 x <tspan class="op">+</tspan> 187.908</text>
<text x="266.10" y="436.23" font-size="9.40">R<tspan font-size="6.58" dy="-3.9">2</tspan><tspan dy="3.9"> </tspan><tspan class="op" dx="-0.6">=</tspan><tspan dx="0.6"> 0.533</tspan></text>
</g>
<g>
<rect x="395.75" y="413.75" width="139.40" height="100.15" fill="none" stroke="#b4b4b4" stroke-width="1.2"/>
<line x1="413.18" y1="513.60" x2="413.18" y2="515.40" stroke="#777" stroke-width="0.8"/>
<text x="413.18" y="526.70" font-size="7.90" text-anchor="middle">1990</text>
<line x1="448.02" y1="513.60" x2="448.02" y2="515.40" stroke="#777" stroke-width="0.8"/>
<text x="448.02" y="526.70" font-size="7.90" text-anchor="middle">2000</text>
<line x1="482.88" y1="513.60" x2="482.88" y2="515.40" stroke="#777" stroke-width="0.8"/>
<text x="482.88" y="526.70" font-size="7.90" text-anchor="middle">2010</text>
<line x1="517.73" y1="513.60" x2="517.73" y2="515.40" stroke="#777" stroke-width="0.8"/>
<text x="517.73" y="526.70" font-size="7.90" text-anchor="middle">2020</text>
<line x1="394.25" y1="513.90" x2="396.05" y2="513.90" stroke="#777" stroke-width="0.8"/>
<text x="390.65" y="516.70" font-size="7.90" text-anchor="end">400</text>
<line x1="394.25" y1="497.21" x2="396.05" y2="497.21" stroke="#777" stroke-width="0.8"/>
<text x="390.65" y="500.01" font-size="7.90" text-anchor="end">600</text>
<line x1="394.25" y1="480.52" x2="396.05" y2="480.52" stroke="#777" stroke-width="0.8"/>
<text x="390.65" y="483.32" font-size="7.90" text-anchor="end">800</text>
<line x1="394.25" y1="463.82" x2="396.05" y2="463.82" stroke="#777" stroke-width="0.8"/>
<text x="390.65" y="466.62" font-size="7.90" text-anchor="end">1000</text>
<line x1="394.25" y1="447.13" x2="396.05" y2="447.13" stroke="#777" stroke-width="0.8"/>
<text x="390.65" y="449.93" font-size="7.90" text-anchor="end">1200</text>
<line x1="394.25" y1="430.44" x2="396.05" y2="430.44" stroke="#777" stroke-width="0.8"/>
<text x="390.65" y="433.24" font-size="7.90" text-anchor="end">1400</text>
<line x1="394.25" y1="413.75" x2="396.05" y2="413.75" stroke="#777" stroke-width="0.8"/>
<text x="390.65" y="416.55" font-size="7.90" text-anchor="end">1600</text>
<text transform="translate(369.05,463.82) rotate(-90)" font-size="9.40" text-anchor="middle">Area of OC (km<tspan font-size="6.02" dy="-4.2" dx="0.5">2</tspan><tspan dy="4.2" dx="0.6">)</tspan></text>
<text x="465.85" y="540.70" font-size="9.40" text-anchor="middle">Year</text>
<line x1="409.57" y1="444.79" x2="512.61" y2="498.11" stroke="#8a8a8a" stroke-width="0.8"/>
<circle cx="409.69" cy="429.73" r="1.35" fill="#000"/>
<circle cx="420.14" cy="454.86" r="1.35" fill="#000"/>
<circle cx="430.60" cy="459.56" r="1.35" fill="#000"/>
<circle cx="441.06" cy="463.43" r="1.35" fill="#000"/>
<circle cx="461.97" cy="474.20" r="1.35" fill="#000"/>
<circle cx="472.42" cy="480.83" r="1.35" fill="#000"/>
<circle cx="482.88" cy="507.90" r="1.35" fill="#000"/>
<circle cx="493.33" cy="467.02" r="1.35" fill="#000"/>
<circle cx="503.79" cy="489.39" r="1.35" fill="#000"/>
<circle cx="514.24" cy="496.58" r="1.35" fill="#000"/>
<text x="434.44" y="423.47" font-size="9.40">y <tspan class="op" dx="-0.6">=</tspan><tspan dx="0.6"> </tspan><tspan class="op" dx="-0.5">−</tspan><tspan dx="0.5">1</tspan>7.701 x <tspan class="op">+</tspan> 1232.457</text>
<text x="434.44" y="434.57" font-size="9.40">R<tspan font-size="6.58" dy="-3.9">2</tspan><tspan dy="3.9"> </tspan><tspan class="op" dx="-0.6">=</tspan><tspan dx="0.6"> 0.618</tspan></text>
</g>
</svg>
</body></html>
